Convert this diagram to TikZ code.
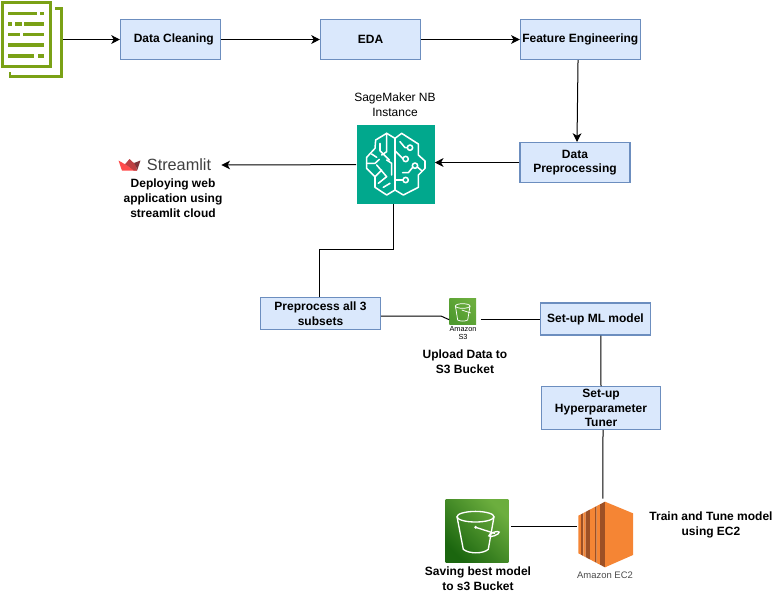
\documentclass[tikz,border=0pt]{standalone}
\usepackage{fontspec}
\setmainfont{Liberation Sans}
\usetikzlibrary{arrows.meta}
\definecolor{boxfill}{HTML}{DAE8FC}
\definecolor{boxline}{HTML}{6C8EBF}
\definecolor{docgreen}{HTML}{7AA116}
\definecolor{sageteal}{HTML}{01A88D}
\definecolor{bucketlight}{HTML}{6CAE3E}
\definecolor{bucketdark}{HTML}{1B660F}
\definecolor{smallbucketdark}{HTML}{4F9A2E}
\definecolor{ecorange}{HTML}{F58534}
\definecolor{ecdark}{HTML}{9D5025}
\definecolor{stred}{HTML}{FF4B4B}
\definecolor{stdark}{HTML}{7D353B}
\definecolor{stmid}{HTML}{BD4043}
\tikzset{
	stagebox/.style={draw=boxline, fill=boxfill, line width=0.8pt, align=center, inner sep=0pt, font=\bfseries\fontsize{9}{11}\selectfont},
	plaintext/.style={align=center, inner sep=0pt, font=\fontsize{9}{11.2}\selectfont},
	boldtext/.style={plaintext, font=\bfseries\fontsize{9}{11.2}\selectfont},
	iconbox/.style={inner sep=0pt},
	bucketfill/.style={shading=axis, bottom color=#1, top color=bucketlight, shading angle=-45},
	flow/.style={line width=0.75pt, -{Stealth[length=6.5pt,width=6.5pt,inset=1.8pt]}},
	link/.style={line width=0.75pt},
	brainline/.style={draw=white, line width=1.15pt, line join=round, line cap=round},
}
\begin{document}
\begin{tikzpicture}[x=0.75pt, y=-0.75pt]
	\useasboundingbox (0,0) rectangle (776,594);

	% pipeline along the top
	\node[iconbox, minimum width=47.25pt, minimum height=58.5pt] (docs) at (31.5,39.5) {};
	\node[stagebox, minimum width=75pt, minimum height=30pt] (clean) at (170.5,39.5) {\hspace*{5pt}Data Cleaning};
	\node[stagebox, minimum width=75pt, minimum height=30pt] (eda) at (370.5,39.5) {EDA};
	\node[stagebox, minimum width=90pt, minimum height=30pt] (feature) at (580.3,39.5) {Feature Engineering};
	\node[stagebox, minimum width=82.5pt, minimum height=30pt] (prep) at (575,162.5) {\raisebox{-1pt}{Data}\\\raisebox{-1pt}{Preprocessing}};

	% sagemaker and streamlit
	\node[iconbox, fill=sageteal, minimum width=58.5pt, minimum height=59pt] (sage) at (395.5,164.5) {};
	\node[plaintext] (sagetext) at (395,105) {SageMaker NB\\Instance};
	\node[iconbox, font=\fontsize{12.2}{14}\selectfont, text=black!75] (streamlit) at (179,165) {Streamlit};
	\node[boldtext] (deploy) at (173,198.5) {Deploying web\\application using\\streamlit cloud};

	% middle row
	\node[stagebox, minimum width=90pt, minimum height=24pt] (subsets) at (320.5,313.5) {Preprocess all 3\\subsets};
	\node[iconbox, bucketfill=smallbucketdark, minimum width=20pt, minimum height=19.5pt] (smallbucket) at (462.7,311) {};
	\node[plaintext, font=\fontsize{5.5}{6}\selectfont] (smalltext) at (463,333) {Amazon\\S3};
	\node[boldtext] (uploadtext) at (465,362) {Upload Data to\\S3 Bucket};
	\node[stagebox, minimum width=82pt, minimum height=24pt] (model) at (595.5,319) {Set-up ML model};
	\node[stagebox, minimum width=89.5pt, minimum height=32pt] (tuner) at (601,408) {Set-up\\Hyperparameter\\Tuner};

	% bottom row
	\node[iconbox, minimum width=42.75pt, minimum height=52.5pt] (ectwo) at (605.5,534) {};
	\node[plaintext, font=\fontsize{7.1}{8}\selectfont, text=black!70] (ectext) at (605,575) {Amazon EC2};
	\node[boldtext] (tunetext) at (711,525) {Train and Tune model\\using EC2};
	\node[iconbox, bucketfill=bucketdark, minimum width=47pt, minimum height=47pt] (bigbucket) at (477,531) {};
	\node[boldtext] (savetext) at (478,579) {Saving best model\\to s3 Bucket};

	% connectors
	\draw[flow] (docs.east) -- (clean.west);
	\draw[flow] (clean) -- (eda);
	\draw[flow] (eda) -- (feature);
	\draw[flow] ([xshift=-1.7pt]feature.south) -- ([xshift=1.5pt]prep.north);
	\draw[flow] (prep) -- (prep -| sage.east);
	\draw[flow] (sage) -- ([xshift=7.5pt]streamlit.east);
	\draw[link] ([xshift=-1.6pt]sage.south) -- ++(0,45) -| ([xshift=-0.4pt]subsets.north);
	\draw[link] ([yshift=-1.9pt]subsets.east) -- ++(60,0) -- ([yshift=-6.5pt]smallbucket.west);
	\draw[link] ([xshift=3.5pt,yshift=-6pt]smallbucket.east) -- (model.west);
	\draw[link] ([xshift=4pt]model.south) -- (tuner.north);
	\draw[link] ([xshift=1.5pt]tuner.south) -- ([xshift=-1.9pt]ectwo.north);
	\draw[link] ([yshift=6pt]ectwo.west) -- ([xshift=1.7pt,yshift=3.75pt]bigbucket.east);

	% document icon
	\begin{scope}[docgreen]
		\draw[line width=2.3pt] (2.5,2.5) rectangle (50.5,66.5);
		\draw[line width=2.2pt] (55,8.3) -- (61.7,8.3) -- (61.7,76.7) -- (10,76.7) -- (10,71.5);
		\foreach \ya/\xa/\xb in {13.3/8/37, 13.3/40/44, 24/8/12, 24/15/22, 24/24/44, 34.3/8/20, 34.3/23/44, 45/8/44, 56/8/34, 56/38/44}
			\draw[line width=2.3pt] (\xa,\ya) -- (\xb,\ya);
	\end{scope}

	% brain icon, read off in thirds of a pixel
	\begin{scope}[shift={(340,80)}, x=0.25pt, y=-0.25pt, brainline]
		\draw (165,175) -- (140,160) -- (107,180) -- (105,205) -- (80,232) -- (80,265) -- (105,290) -- (105,322) -- (140,345) -- (165,330) -- (190,345) -- (235,322) -- (235,285) -- (255,265) -- (255,243) -- (235,225) -- (235,192) -- (185,160) -- (165,175) -- (165,330);
		\draw (165,212) -- (190,237);
		\draw (197,237) circle (8);
		\draw (180,185) -- (195,203) -- (202,203);
		\draw (210,203) circle (8);
		\draw (165,300) -- (189,300);
		\draw (197,300) circle (8);
		\draw (225,257) circle (8);
		\draw (232,261) -- (245,272);
		\draw (218,262) -- (205,278) -- (188,278);
		\draw (140,160) -- (140,215) -- (125,225);
		\draw (120,190) -- (120,212) -- (133,225) -- (148,240);
		\draw (80,250) -- (105,250) -- (118,238);
		\draw (140,240) -- (155,250) -- (155,285);
		\draw (105,290) -- (125,270);
		\draw (110,255) -- (140,290) -- (115,310);
		\draw (130,322) -- (150,310);
		\draw (95,222) -- (110,232);
	\end{scope}

	% small bucket
	\begin{scope}[shift={(smallbucket.center)}, draw=white, line width=0.55pt]
		\draw (-7.3,-5) -- (-5,9) .. controls (-2,10.5) and (2,10.5) .. (5,9) -- (7.3,-5);
		\draw (0,-5) ellipse (7.3 and 2.3);
		\draw (-1,-1) -- (8,2);
	\end{scope}

	% big bucket
	\begin{scope}[shift={(bigbucket.center)}, draw=white, line width=1pt]
		\draw (-20,-14.3) -- (-13.7,18.3) .. controls (-8,23) and (6,23) .. (11.3,18.3) -- (17,-14.3);
		\draw (-1.5,-14.3) ellipse (18.5 and 5.3);
		\fill[white] (-1.3,-3.7) circle (1.6);
		\draw (-1.3,-3.7) -- (18,2.5);
		\draw[rotate around={20:(17,3)}] (17,3) ellipse (5.5 and 1.8);
	\end{scope}

	% ec2 icon
	\foreach \xa/\xb/\shadecol in {578.3/581/ecorange, 581/583.3/ecdark, 583.3/585.7/ecorange, 585.7/590/ecdark, 590/595/ecorange, 595/596.7/ecdark, 596.7/600/ecorange, 600/605/ecdark}
		\fill[\shadecol] (\xa,{515.7-0.525*(\xa-578.3)}) -- (\xb,{515.7-0.525*(\xb-578.3)}) -- (\xb,{553.3+0.525*(\xb-578.3)}) -- (\xa,{553.3+0.525*(\xa-578.3)}) -- cycle;
	\fill[ecorange] (605,501.7) -- (633,513.3) -- (633,555) -- (605,567.3) -- cycle;

	% streamlit crown
	\fill[stred] (118.5,160.5) -- (128,166) -- (134,170.7) -- (122,170.7) -- cycle;
	\fill[stred] (125,164) -- (130,163) -- (137,170.7) -- (134,170.7) -- cycle;
	\fill[stmid] (129.5,159) -- (125,164.3) -- (128,166) -- (134,170.7) -- (137,170.7) -- (136,165) -- cycle;
	\fill[stdark] (140.5,160.5) -- (134,163) -- (136,166) -- (137,170.7) -- cycle;
\end{tikzpicture}
\end{document}
